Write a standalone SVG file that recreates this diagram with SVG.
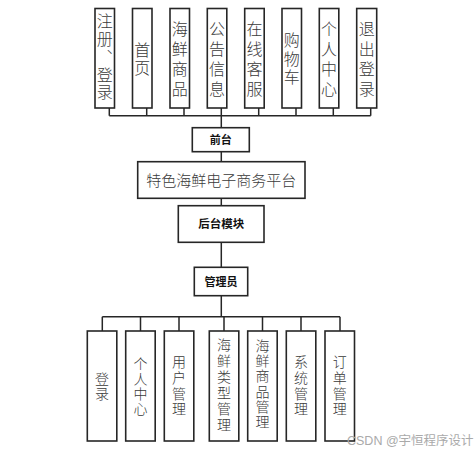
<svg xmlns="http://www.w3.org/2000/svg" width="474" height="452" viewBox="0 0 474 452">
<style>
.box{fill:#fff;stroke:#262626;stroke-width:1.6}
.ln{stroke:#262626;stroke-width:1.5;fill:none}
.t{font-family:"Noto Sans CJK SC","Noto Sans CJK JP",sans-serif;fill:#3a3a3a;text-anchor:middle;font-weight:300}
.v{writing-mode:vertical-rl;text-orientation:upright}
.t16{font-size:16px}
.t14{font-size:14px}
.b{font-family:"Noto Sans CJK SC","Noto Sans CJK JP",sans-serif;fill:#111;text-anchor:middle;font-weight:bold;font-size:11px}
.wm{font-family:"Liberation Sans","Noto Sans CJK SC",sans-serif;fill:#aaa;font-size:12.5px}
</style>
<rect width="474" height="452" fill="#fff"/>
<g id="connectors">
<path class="ln" d="M109.3,108V115.7M146.7,108V115.7M184,108V115.7M258.7,108V115.7M296,108V115.7M333.3,108V115.7M370.7,108V115.7M109.3,115.7H370.7M221.3,108V127.7"/>
<path class="ln" d="M221.3,151.7V161.7M221.3,198.3V205.7M221.3,242.3V267.3M221.3,295.7V316.7"/>
<path class="ln" d="M102.3,316.7H340M102.3,316.7V331M140.5,316.7V331M179,316.7V331M224,316.7V331M262.5,316.7V331M301,316.7V331M340,316.7V331"/>
</g>
<g id="n-zhuce">
<rect class="box" x="95" y="8.5" width="19.5" height="99.5"/>
<text class="t t16 v" x="104.7" y="57.5" style="letter-spacing:1.9px">注册、登录</text>
</g>
<g id="n-shouye">
<rect class="box" x="132.5" y="8.5" width="19.5" height="99.5"/>
<text class="t t16 v" x="142.2" y="59.7" style="letter-spacing:2px">首页</text>
</g>
<g id="n-haixian">
<rect class="box" x="170" y="8.5" width="19.5" height="99.5"/>
<text class="t t16 v" x="179.7" y="61.3" style="letter-spacing:4px">海鲜商品</text>
</g>
<g id="n-gonggao">
<rect class="box" x="207.3" y="8.5" width="19.5" height="99.5"/>
<text class="t t16 v" x="217" y="61.3" style="letter-spacing:4px">公告信息</text>
</g>
<g id="n-kefu">
<rect class="box" x="244.7" y="8.5" width="19.5" height="99.5"/>
<text class="t t16 v" x="254.4" y="61.3" style="letter-spacing:4px">在线客服</text>
</g>
<g id="n-gouwuche">
<rect class="box" x="282" y="8.5" width="19.5" height="99.5"/>
<text class="t t16 v" x="291.7" y="60" style="letter-spacing:2.7px">购物车</text>
</g>
<g id="n-geren">
<rect class="box" x="319.3" y="8.5" width="19.5" height="99.5"/>
<text class="t t16 v" x="329" y="61.3" style="letter-spacing:4px">个人中心</text>
</g>
<g id="n-tuichu">
<rect class="box" x="356.7" y="8.5" width="20" height="99.5"/>
<text class="t t16 v" x="366.7" y="61.3" style="letter-spacing:4px">退出登录</text>
</g>
<g id="n-qiantai">
<rect class="box" x="192.3" y="127.7" width="57" height="24"/>
<text class="b" x="220.8" y="143.6">前台</text>
</g>
<g id="n-platform">
<rect class="box" x="137.7" y="161.7" width="167.3" height="36.6"/>
<text class="t" style="font-size:15px" x="221.3" y="185.8">特色海鲜电子商务平台</text>
</g>
<g id="n-houtai">
<rect class="box" x="178.3" y="205.7" width="85.7" height="36.6"/>
<text class="b" style="font-size:11.5px" x="221.2" y="228.2">后台模块</text>
</g>
<g id="n-admin">
<rect class="box" x="194.3" y="267.3" width="53.4" height="28.4"/>
<text class="b" x="221" y="285.5">管理员</text>
</g>
<g id="m-denglu">
<rect class="box" x="87.3" y="331" width="29.5" height="110"/>
<text class="t t14 v" x="102" y="386.5" style="letter-spacing:1px">登录</text>
</g>
<g id="m-geren">
<rect class="box" x="125.7" y="331" width="29.5" height="110"/>
<text class="t t14 v" x="140.5" y="386.8" style="letter-spacing:1.2px">个人中心</text>
</g>
<g id="m-yonghu">
<rect class="box" x="164.3" y="331" width="29.5" height="110"/>
<text class="t t14 v" x="179" y="386.2" style="letter-spacing:1.6px">用户管理</text>
</g>
<g id="m-leixing">
<rect class="box" x="209.3" y="331" width="29.5" height="110"/>
<text class="t t14 v" x="224" y="385.2" style="letter-spacing:2px">海鲜类型管理</text>
</g>
<g id="m-shangpin">
<rect class="box" x="247.7" y="331" width="29.5" height="110"/>
<text class="t t14 v" x="262.5" y="384.4" style="letter-spacing:1.3px">海鲜商品管理</text>
</g>
<g id="m-xitong">
<rect class="box" x="286.3" y="331" width="29.5" height="110"/>
<text class="t t14 v" x="301" y="386.2" style="letter-spacing:1.6px">系统管理</text>
</g>
<g id="m-dingdan">
<rect class="box" x="325" y="331" width="29.5" height="110"/>
<text class="t t14 v" x="339.8" y="386.2" style="letter-spacing:1.6px">订单管理</text>
</g>
<text class="wm" x="347" y="445">CSDN @宇恒程序设计</text>
</svg>
